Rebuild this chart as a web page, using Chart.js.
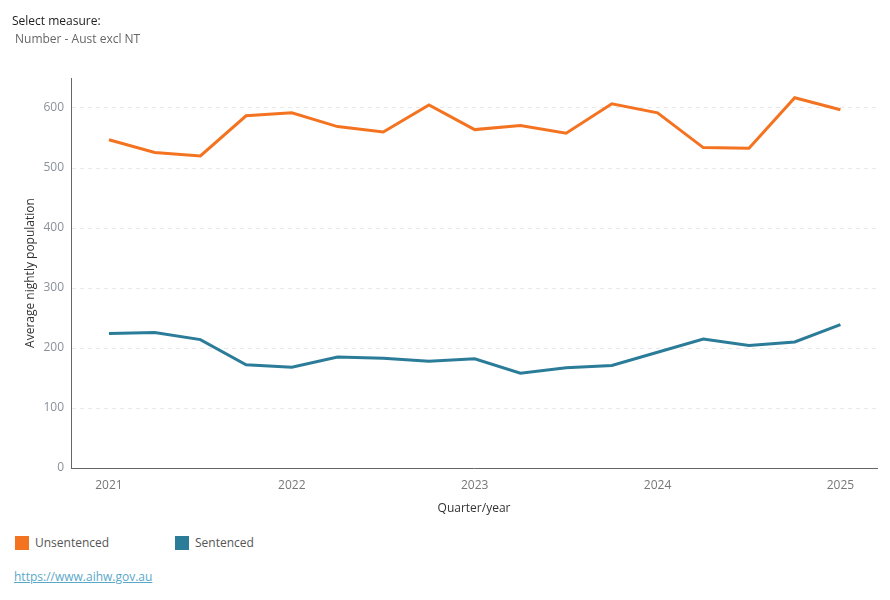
<!DOCTYPE html>
<html>
<head>
<meta charset="utf-8">
<script src="https://cdn.jsdelivr.net/npm/chart.js@4"></script>
<style>
  body { margin: 0; background: #fff; font-family: "Open Sans", sans-serif; }
  #wrap { position: relative; width: 890px; height: 600px; }
  #chart { position: absolute; left: 0; top: 0; }
  .hdr1 { position: absolute; left: 12px; top: 12px; font-size: 12px; color: #222; }
  .hdr2 { position: absolute; left: 15px; top: 30px; font-size: 12px; color: #666; }
  .legend { position: absolute; top: 534px; font-size: 12px; color: #555; display: flex; align-items: center; }
  .legend span.sw { width: 14px; height: 14px; display: inline-block; margin-right: 6px; }
  .link { position: absolute; left: 14px; top: 568px; font-size: 12px; color: #5aa8c8; text-decoration: underline; }
</style>
</head>
<body>
<div id="wrap">
  <canvas id="chart" width="890" height="520"></canvas>
  <div class="hdr1">Select measure:</div>
  <div class="hdr2">Number - Aust excl NT</div>
  <div class="legend" style="left:15px"><span class="sw" style="background:#F47321"></span>Unsentenced</div>
  <div class="legend" style="left:175px"><span class="sw" style="background:#2B7C98"></span>Sentenced</div>
  <div class="link">https://www.aihw.gov.au</div>
</div>
<script>
const quarters = [
  "2021 Q1", "2021 Q2", "2021 Q3", "2021 Q4",
  "2022 Q1", "2022 Q2", "2022 Q3", "2022 Q4",
  "2023 Q1", "2023 Q2", "2023 Q3", "2023 Q4",
  "2024 Q1", "2024 Q2", "2024 Q3", "2024 Q4",
  "2025 Q1"
];
const unsentenced = [547, 526, 520, 587, 592, 569, 560, 605, 564, 571, 558, 607, 592, 534, 533, 617, 597];
const sentenced = [224, 226, 214, 172, 168, 185, 183, 178, 182, 158, 167, 171, 193, 215, 204, 210, 239];
const yearTicks = [0, 4, 8, 12, 16];
const yTicks = [0, 100, 200, 300, 400, 500, 600];

const toPoints = arr => arr.map((v, i) => ({ x: i, y: v }));

new Chart(document.getElementById("chart"), {
  type: "line",
  data: {
    datasets: [
      { label: "Unsentenced", data: toPoints(unsentenced), borderColor: "#F47321", borderWidth: 3, pointRadius: 0, tension: 0 },
      { label: "Sentenced", data: toPoints(sentenced), borderColor: "#2B7C98", borderWidth: 3, pointRadius: 0, tension: 0 }
    ]
  },
  options: {
    responsive: false,
    animation: false,
    layout: { padding: { top: 78, right: 13, left: 0, bottom: 0 } },
    plugins: { legend: { display: false }, tooltip: { enabled: false } },
    scales: {
      x: {
        type: "linear",
        min: -0.83,
        max: 16.8,
        afterBuildTicks: axis => { axis.ticks = yearTicks.map(v => ({ value: v })); },
        afterFit: scale => { scale.height = 52; },
        grid: { display: false, drawTicks: false },
        border: { color: "#666", width: 1 },
        ticks: {
          padding: 10,
          color: "#777",
          font: { family: "Open Sans", size: 12 },
          callback: v => quarters[v] ? quarters[v].slice(0, 4) : ""
        },
        title: {
          display: true,
          text: "Quarter/year",
          color: "#333",
          font: { family: "Open Sans", size: 12 },
          padding: { top: 0, bottom: 4 }
        }
      },
      y: {
        min: 0,
        max: 650,
        afterBuildTicks: axis => { axis.ticks = yTicks.map(v => ({ value: v })); },
        afterFit: scale => { scale.width = 71; },
        grid: {
          drawTicks: false,
          color: ctx => ctx.tick && ctx.tick.value === 0 ? "rgba(0,0,0,0)" : "#e8e8e8",
          lineWidth: 1
        },
        border: { color: "#666", width: 1, dash: [4, 4] },
        ticks: {
          padding: 7,
          color: "#8a909a",
          font: { family: "Open Sans", size: 12 }
        },
        title: {
          display: true,
          text: "Average nightly population",
          color: "#333",
          font: { family: "Open Sans", size: 12 },
          padding: { top: 23, bottom: 0 }
        }
      }
    }
  }
});
</script>
</body>
</html>
